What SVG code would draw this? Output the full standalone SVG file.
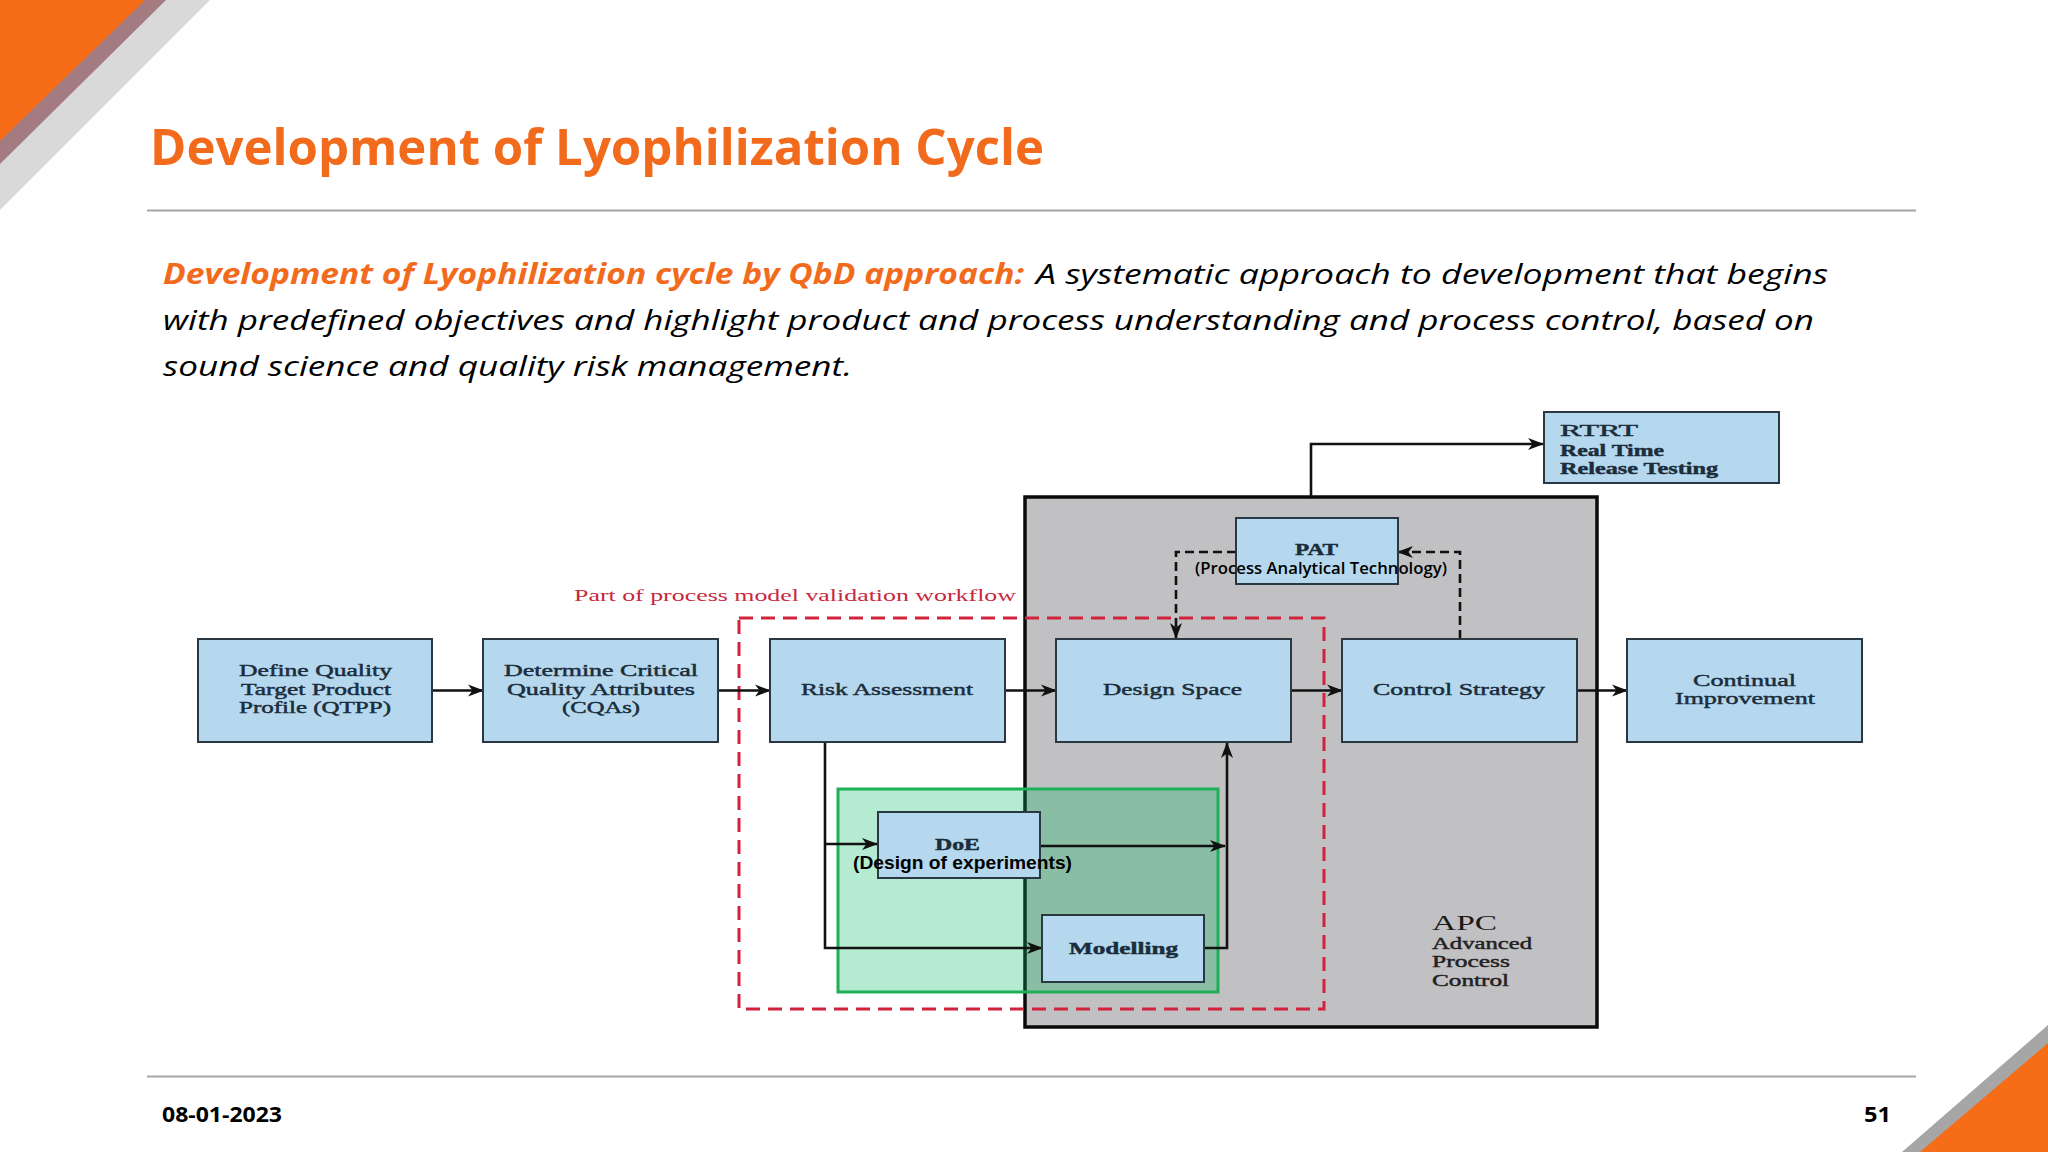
<svg xmlns="http://www.w3.org/2000/svg" width="2048" height="1152" viewBox="0 0 2048 1152">
<defs>
<style>
.box{fill:#B5D8EE;stroke:#2A3844;stroke-width:2}
.bt{font-family:"Liberation Serif","DejaVu Serif",serif;font-size:17px;fill:#1B2C3B;stroke:#1B2C3B;stroke-width:0.45}
.ln{fill:none;stroke:#111;stroke-width:2.6}
.dl{fill:none;stroke:#111;stroke-width:2.6;stroke-dasharray:9 5}
.ov{font-family:"Open Sans","Liberation Sans",sans-serif;font-weight:600;fill:#000}
.sub{font-family:"Open Sans","Liberation Sans",sans-serif;font-style:italic;font-size:28px}
.apc{font-family:"Liberation Serif",serif;font-size:17px;fill:#222;stroke:#222;stroke-width:0.45}
</style>
<marker id="arr" markerUnits="userSpaceOnUse" markerWidth="17" markerHeight="13" refX="15" refY="6.5" orient="auto">
<path d="M0,0.5 L16,6.5 L0,12.5 L4.5,6.5 z" fill="#111"/>
</marker>
</defs>
<rect width="2048" height="1152" fill="#FFFFFF"/>
<!-- corner decorations -->
<polygon points="0,0 210,0 0,210" fill="#D9D9D9"/>
<polygon points="0,0 166,0 0,164" fill="#A47B80"/>
<polygon points="0,0 145,0 0,141" fill="#F76C17"/>
<polygon points="1902,1152 2048,1025 2048,1152" fill="#A6A6A6"/>
<polygon points="1920,1152 2048,1043 2048,1152" fill="#F76C17"/>
<!-- title -->
<text x="150" y="165" font-family="'Open Sans','Liberation Sans',sans-serif" font-weight="bold" font-size="51" fill="#F26B1D" textLength="894" lengthAdjust="spacingAndGlyphs">Development of Lyophilization Cycle</text>
<line x1="147" y1="210.5" x2="1916" y2="210.5" stroke="#A6A6A6" stroke-width="2"/>
<!-- paragraph -->
<text class="sub" x="163" y="284" font-weight="bold" fill="#F26B1D" textLength="861" lengthAdjust="spacingAndGlyphs">Development of Lyophilization cycle by QbD approach:</text>
<text class="sub" x="1036" y="284" fill="#000" textLength="792" lengthAdjust="spacingAndGlyphs">A systematic approach to development that begins</text>
<text class="sub" x="163" y="330" fill="#000" textLength="1651" lengthAdjust="spacingAndGlyphs">with predefined objectives and highlight product and process understanding and process control, based on</text>
<text class="sub" x="163" y="376" fill="#000" textLength="689" lengthAdjust="spacingAndGlyphs">sound science and quality risk management.</text>
<!-- diagram background regions -->
<g id="apc">
<rect x="1025" y="497" width="572" height="530" fill="#C1C0C2" stroke="#0A0A0A" stroke-width="3.5"/>
<text x="1432" y="930" font-family="'Liberation Serif',serif" font-size="22" fill="#1A1A1A" textLength="65" lengthAdjust="spacingAndGlyphs">APC</text>
<text class="apc" x="1432" y="949" textLength="100" lengthAdjust="spacingAndGlyphs">Advanced</text>
<text class="apc" x="1432" y="967" textLength="78" lengthAdjust="spacingAndGlyphs">Process</text>
<text class="apc" x="1432" y="986" textLength="77" lengthAdjust="spacingAndGlyphs">Control</text>
</g>
<g id="validation-workflow">
<rect x="739" y="618" width="585" height="391" fill="none" stroke="#D2233C" stroke-width="3" stroke-dasharray="14 8"/>
<text x="574" y="601" font-family="'Liberation Serif',serif" font-size="16.5" fill="#C8283E" textLength="442" lengthAdjust="spacingAndGlyphs">Part of process model validation workflow</text>
</g>
<g id="green-region">
<rect x="838" y="789" width="380" height="203" fill="rgb(0,185,98)" fill-opacity="0.29" stroke="#1EAF58" stroke-width="3"/>
</g>
<!-- connectors -->
<g id="connectors">
<path class="ln" d="M432,690.5 H483" marker-end="url(#arr)"/>
<path class="ln" d="M718,690.5 H770" marker-end="url(#arr)"/>
<path class="ln" d="M1005,690.5 H1056" marker-end="url(#arr)"/>
<path class="ln" d="M1291,690.5 H1342" marker-end="url(#arr)"/>
<path class="ln" d="M1577,690.5 H1627" marker-end="url(#arr)"/>
<path class="ln" d="M1311,497 V444 H1543" marker-end="url(#arr)"/>
<path class="dl" d="M1236,552 H1176 V638" marker-end="url(#arr)"/>
<path class="dl" d="M1460,639 V552 H1398" marker-end="url(#arr)"/>
<path class="ln" d="M825,742 V948 H1042" marker-end="url(#arr)"/>
<path class="ln" d="M825,844 H877" marker-end="url(#arr)"/>
<path class="ln" d="M1040,846 H1225" marker-end="url(#arr)"/>
<path class="ln" d="M1204,948 H1227 V743" marker-end="url(#arr)"/>
</g>
<!-- nodes -->
<g id="qtpp">
<rect class="box" x="198" y="639" width="234" height="103"/>
<text class="bt" x="239" y="676" textLength="153" lengthAdjust="spacingAndGlyphs">Define Quality</text>
<text class="bt" x="241" y="694.5" textLength="150" lengthAdjust="spacingAndGlyphs">Target Product</text>
<text class="bt" x="239" y="713" textLength="152" lengthAdjust="spacingAndGlyphs">Profile (QTPP)</text>
</g>
<g id="cqas">
<rect class="box" x="483" y="639" width="235" height="103"/>
<text class="bt" x="504" y="676" textLength="194" lengthAdjust="spacingAndGlyphs">Determine Critical</text>
<text class="bt" x="507" y="694.5" textLength="188" lengthAdjust="spacingAndGlyphs">Quality Attributes</text>
<text class="bt" x="562" y="713" textLength="78" lengthAdjust="spacingAndGlyphs">(CQAs)</text>
</g>
<g id="risk-assessment">
<rect class="box" x="770" y="639" width="235" height="103"/>
<text class="bt" x="801" y="695" textLength="172" lengthAdjust="spacingAndGlyphs">Risk Assessment</text>
</g>
<g id="design-space">
<rect class="box" x="1056" y="639" width="235" height="103"/>
<text class="bt" x="1103" y="695" textLength="139" lengthAdjust="spacingAndGlyphs">Design Space</text>
</g>
<g id="control-strategy">
<rect class="box" x="1342" y="639" width="235" height="103"/>
<text class="bt" x="1373" y="695" textLength="172" lengthAdjust="spacingAndGlyphs">Control Strategy</text>
</g>
<g id="continual-improvement">
<rect class="box" x="1627" y="639" width="235" height="103"/>
<text class="bt" x="1693" y="686" textLength="103" lengthAdjust="spacingAndGlyphs">Continual</text>
<text class="bt" x="1675" y="704" textLength="140" lengthAdjust="spacingAndGlyphs">Improvement</text>
</g>
<g id="rtrt">
<rect class="box" x="1544" y="412" width="235" height="71"/>
<text class="bt" x="1560" y="436" font-size="22" textLength="78" lengthAdjust="spacingAndGlyphs">RTRT</text>
<text class="bt" x="1560" y="456" font-weight="bold" stroke-width="0" textLength="104" lengthAdjust="spacingAndGlyphs">Real Time</text>
<text class="bt" x="1560" y="474" font-weight="bold" stroke-width="0" textLength="158" lengthAdjust="spacingAndGlyphs">Release Testing</text>
</g>
<g id="pat">
<rect class="box" x="1236" y="518" width="162" height="66"/>
<text class="bt" x="1295" y="555" font-weight="bold" stroke-width="0" textLength="43" lengthAdjust="spacingAndGlyphs">PAT</text>
<text class="ov" x="1195" y="574" font-size="17" textLength="252" lengthAdjust="spacingAndGlyphs">(Process Analytical Technology)</text>
</g>
<g id="doe">
<rect class="box" x="878" y="812" width="162" height="66"/>
<text class="bt" x="935" y="850" font-weight="bold" stroke-width="0" textLength="45" lengthAdjust="spacingAndGlyphs">DoE</text>
<text x="853" y="869" font-family="'Liberation Sans',Arial,sans-serif" font-weight="bold" font-size="18" fill="#000" textLength="219" lengthAdjust="spacingAndGlyphs">(Design of experiments)</text>
</g>
<g id="modelling">
<rect class="box" x="1042" y="915" width="162" height="67"/>
<text class="bt" x="1069" y="954" font-weight="bold" stroke-width="0" textLength="109" lengthAdjust="spacingAndGlyphs">Modelling</text>
</g>
<!-- footer -->
<line x1="147" y1="1076.5" x2="1916" y2="1076.5" stroke="#A6A6A6" stroke-width="2"/>
<text x="162" y="1122" font-family="'Open Sans','Liberation Sans',sans-serif" font-weight="bold" font-size="22" fill="#000" textLength="120" lengthAdjust="spacingAndGlyphs">08-01-2023</text>
<text x="1864" y="1122" font-family="'Open Sans','Liberation Sans',sans-serif" font-weight="bold" font-size="22" fill="#000" textLength="27" lengthAdjust="spacingAndGlyphs">51</text>
</svg>
